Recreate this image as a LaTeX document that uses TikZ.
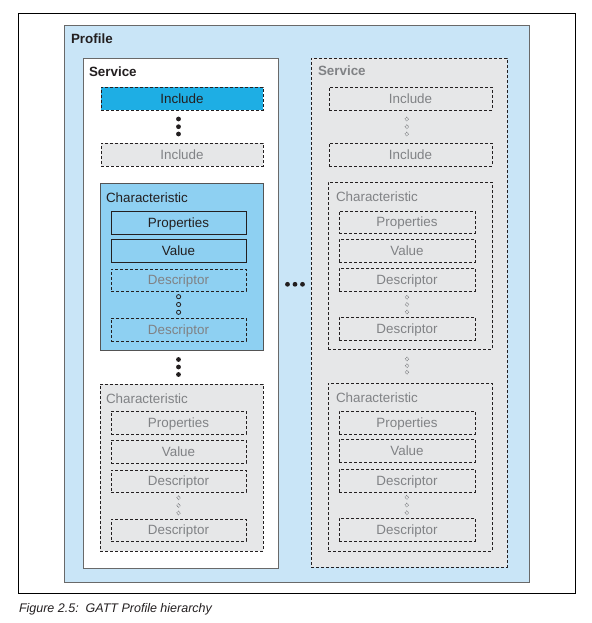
\documentclass[tikz,border=0pt]{standalone}
\usepackage{fontspec}
\setmainfont{Liberation Sans}
\usetikzlibrary{fit}
\definecolor{profbg}{RGB}{201,229,247}
\definecolor{incblue}{RGB}{30,174,228}
\definecolor{charblue}{RGB}{142,208,242}
\definecolor{grayfill}{RGB}{230,231,232}
\definecolor{graytext}{RGB}{128,130,133}
\definecolor{darktext}{RGB}{35,31,32}
\definecolor{borderg}{RGB}{105,105,105}
\begin{document}
\begin{tikzpicture}[x=1pt,y=-1pt,
  font=\fontsize{13.4}{16}\selectfont,
  every node/.style={inner sep=0pt, outer sep=0pt},
  dsh/.style={dash pattern=on 3pt off 2pt},
  frame/.style={draw=black, line width=1pt},
  profbox/.style={draw=borderg, fill=profbg, line width=0.9pt},
  svcbox/.style={draw=borderg, fill=white, line width=0.9pt},
  gsvc/.style={draw=darktext, fill=grayfill, dsh, line width=0.7pt},
  incbox/.style={draw=darktext, fill=incblue, dsh, line width=0.7pt},
  gbox/.style={draw=darktext, fill=grayfill, dsh, line width=0.7pt},
  cbox/.style={draw=borderg!80!black, fill=charblue, line width=0.9pt},
  pbox/.style={draw=darktext, fill=charblue, line width=0.8pt},
  dbox/.style={draw=darktext, fill=charblue, dsh, line width=0.7pt},
  dlbl/.style={text height=9.6pt, text depth=0pt, text=darktext},
  glbl/.style={text height=9.6pt, text depth=0pt, text=graytext},
  title/.style={anchor=base west, text=darktext},
  gtitle/.style={anchor=base west, text=graytext},
  bdot/.style={fill=darktext},
  odot/.style={draw=darktext, line width=0.8pt},
  gdot/.style={draw=graytext, line width=0.7pt, dash pattern=on 0.9pt off 0.9pt}
]
\useasboundingbox (0,0) rectangle (591,623);
% outer frame and profile
\node[frame, fit={(18,14) (575,593)}] (frm) {};
\node[profbox, fit={(64,25) (529,582)}] (prof) {};
\node[title, font=\bfseries\fontsize{13.4}{16}\selectfont] (proft) at (71,44) {Profile};
% left service
\node[svcbox, fit={(83,58) (278,568)}] (svc1) {};
\node[title, font=\bfseries\fontsize{13.4}{16}\selectfont] (svc1t) at (89,77) {Service};
\node[incbox, fit={(101,87) (263,110)}] (inc1) {};
\node[dlbl] (inc1l) at (inc1.center) {Include};
\node[gbox, fit={(101,143) (263,166)}] (inc2) {};
\node[glbl] (inc2l) at (inc2.center) {Include};
\foreach \yy in {119,126.7,134} \fill[bdot] (178.5,\yy) circle (2.4);
% left char 1
\node[cbox, fit={(100,183) (263,350)}] (ch1) {};
\node[title] (ch1t) at (106,202) {Characteristic};
\node[pbox, fit={(111,211) (246,234)}] (ch1p) {};
\node[dlbl] (ch1pl) at (ch1p.center) {Properties};
\node[pbox, fit={(111,239) (246,262)}] (ch1v) {};
\node[dlbl] (ch1vl) at (ch1v.center) {Value};
\node[dbox, fit={(111,269) (246,291)}] (ch1d1) {};
\node[glbl] (ch1d1l) at (ch1d1.center) {Descriptor};
\node[dbox, fit={(111,318) (246,341)}] (ch1d2) {};
\node[glbl] (ch1d2l) at (ch1d2.center) {Descriptor};
\foreach \yy in {296.7,304.5,312.3} \draw[odot] (178.6,\yy) circle (2.1);
\foreach \yy in {359.5,367,374.5} \fill[bdot] (178.5,\yy) circle (2.4);
% left char 2
\node[gsvc, fit={(100,384) (263,551)}] (ch2) {};
\node[gtitle] (ch2t) at (106,403) {Characteristic};
\node[gbox, fit={(111,411) (246,434)}] (ch2p) {};
\node[glbl] (ch2pl) at (ch2p.center) {Properties};
\node[gbox, fit={(111,440) (246,463)}] (ch2v) {};
\node[glbl] (ch2vl) at (ch2v.center) {Value};
\node[gbox, fit={(111,470) (246,492)}] (ch2d1) {};
\node[glbl] (ch2d1l) at (ch2d1.center) {Descriptor};
\node[gbox, fit={(111,519) (246,541)}] (ch2d2) {};
\node[glbl] (ch2d2l) at (ch2d2.center) {Descriptor};
\foreach \yy in {497.7,505.5,513} \draw[gdot] (178.5,\yy) circle (1.9);
% middle dots
\foreach \xx in {287.5,295,302.5} \fill[bdot] (\xx,284.3) circle (2.4);
% right service
\node[gsvc, fit={(311,58) (507,567)}] (svc2) {};
\node[gtitle, font=\bfseries\fontsize{13.4}{16}\selectfont] (svc2t) at (318,76) {Service};
\node[gbox, fit={(329,87) (492,110)}] (inc3) {};
\node[glbl] (inc3l) at (inc3.center) {Include};
\node[gbox, fit={(329,143) (492,166)}] (inc4) {};
\node[glbl] (inc4l) at (inc4.center) {Include};
\foreach \yy in {119,126.7,134} \draw[gdot] (406.8,\yy) circle (1.9);
% right char 1
\node[gsvc, fit={(328,182) (492,349)}] (ch3) {};
\node[gtitle] (ch3t) at (336,201) {Characteristic};
\node[gbox, fit={(339,211) (475,233)}] (ch3p) {};
\node[glbl] (ch3pl) at (ch3p.center) {Properties};
\node[gbox, fit={(339,239) (475,262)}] (ch3v) {};
\node[glbl] (ch3vl) at (ch3v.center) {Value};
\node[gbox, fit={(339,268) (475,291)}] (ch3d1) {};
\node[glbl] (ch3d1l) at (ch3d1.center) {Descriptor};
\node[gbox, fit={(339,317) (475,340)}] (ch3d2) {};
\node[glbl] (ch3d2l) at (ch3d2.center) {Descriptor};
\foreach \yy in {297.3,304.5,312} \draw[gdot] (407,\yy) circle (1.9);
\foreach \yy in {359,365.7,372.3} \draw[gdot] (407,\yy) circle (1.9);
% right char 2
\node[gsvc, fit={(328,383) (492,551)}] (ch4) {};
\node[gtitle] (ch4t) at (336,402) {Characteristic};
\node[gbox, fit={(339,411) (475,434)}] (ch4p) {};
\node[glbl] (ch4pl) at (ch4p.center) {Properties};
\node[gbox, fit={(339,439) (475,462)}] (ch4v) {};
\node[glbl] (ch4vl) at (ch4v.center) {Value};
\node[gbox, fit={(339,469) (475,492)}] (ch4d1) {};
\node[glbl] (ch4d1l) at (ch4d1.center) {Descriptor};
\node[gbox, fit={(339,518) (475,541)}] (ch4d2) {};
\node[glbl] (ch4d2l) at (ch4d2.center) {Descriptor};
\foreach \yy in {497.3,505,512.7} \draw[gdot] (406.8,\yy) circle (1.9);
% caption
\node[anchor=base west, text=darktext, font=\itshape\fontsize{12.5}{15}\selectfont] (cap) at (19,612) {Figure 2.5:\ \ GATT Profile hierarchy};
\end{tikzpicture}
\end{document}
